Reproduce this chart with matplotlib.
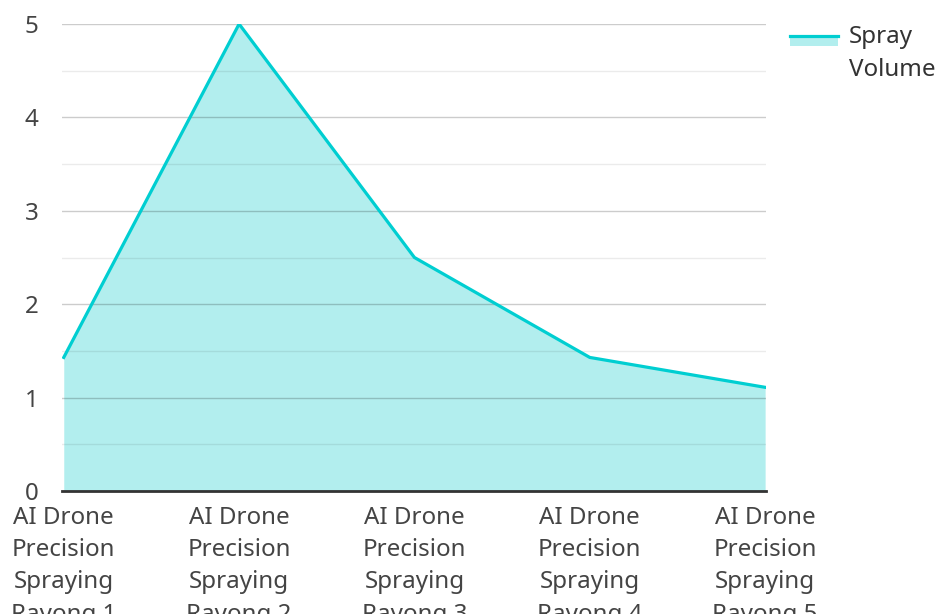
import matplotlib
matplotlib.use("Agg")
import matplotlib.pyplot as plt
from matplotlib.patches import Rectangle
from matplotlib.lines import Line2D

plt.rcParams['font.family'] = ['Noto Sans', 'DejaVu Sans']

categories = [
    "AI Drone\nPrecision\nSpraying\nRayong 1",
    "AI Drone\nPrecision\nSpraying\nRayong 2",
    "AI Drone\nPrecision\nSpraying\nRayong 3",
    "AI Drone\nPrecision\nSpraying\nRayong 4",
    "AI Drone\nPrecision\nSpraying\nRayong 5",
]
spray_volume = [1.43, 5.0, 2.5, 1.43, 1.11]
y_ticks = [0, 1, 2, 3, 4, 5]
series_name = "Spray\nVolume"

line_color = "#00CED1"
fill_color = "#B2EEEE"
text_color = "#444444"
font_size = 17.4

fig = plt.figure(figsize=(9.38, 6.14), dpi=100)
ax = fig.add_axes([62 / 938, 1 - 491 / 614, (766 - 62) / 938, (491 - 24) / 614])

x = list(range(len(categories)))
ax.fill_between(x, spray_volume, 0, color=fill_color, lw=0, zorder=1)
ax.plot(x, spray_volume, color=line_color, lw=2.3, zorder=3, solid_joinstyle="miter")

ax.set_xlim(-0.01, len(categories) - 1 + 0.005)
ax.set_ylim(0, 5)
ax.set_yticks(y_ticks)
ax.set_yticks([v + 0.5 for v in y_ticks[:-1]], minor=True)
ax.set_xticks(x)
ax.set_xticklabels(categories, linespacing=1.45, va="top")

ax.grid(axis="y", which="major", color="black", alpha=0.2, lw=1, zorder=2)
ax.grid(axis="y", which="minor", color="black", alpha=0.08, lw=1, zorder=2)
ax.set_axisbelow(False)

for side in ("top", "right", "left"):
    ax.spines[side].set_visible(False)
ax.spines["bottom"].set_color("#333333")
ax.spines["bottom"].set_linewidth(2)
ax.spines["bottom"].set_zorder(4)

ax.tick_params(axis="both", which="both", length=0, labelsize=font_size, labelcolor=text_color)
ax.tick_params(axis="y", pad=17)
ax.tick_params(axis="x", pad=11)

# legend drawn in figure pixels
def fx(px):
    return px / 938

def fy(py):
    return 1 - py / 614

fig.add_artist(Rectangle((fx(790), fy(46)), fx(838) - fx(790), fy(35) - fy(46),
                         transform=fig.transFigure, facecolor=fill_color, lw=0))
fig.add_artist(Line2D([fx(790), fx(838)], [fy(35.5), fy(35.5)],
                      transform=fig.transFigure, color=line_color, lw=2.3))
fig.text(fx(849), fy(25), series_name, ha="left", va="top", fontsize=font_size,
         color="#333333", linespacing=1.5)

fig.savefig("out.png", dpi=100)
